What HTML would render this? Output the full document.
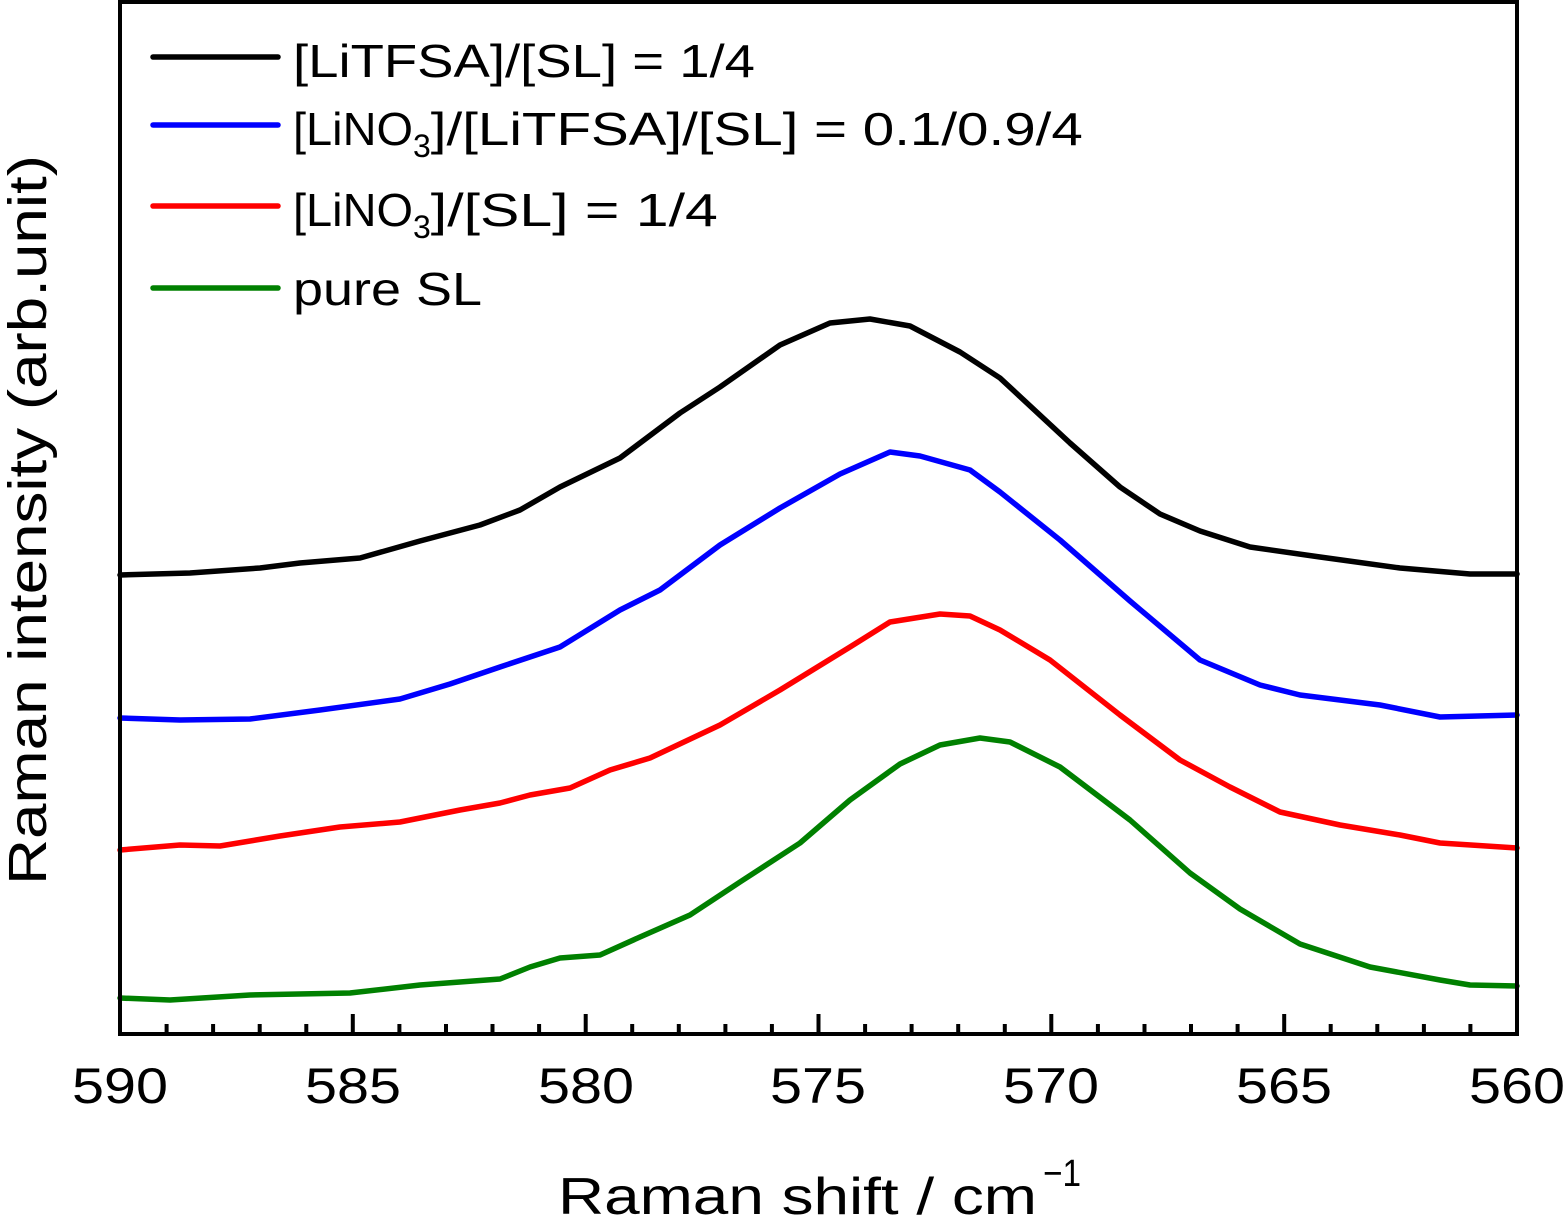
<!DOCTYPE html>
<html><head><meta charset="utf-8"><style>
html,body{margin:0;padding:0;background:#fff;}
svg{display:block;font-family:"Liberation Sans",Arial,sans-serif;}
</style></head><body>
<svg width="1566" height="1219" viewBox="0 0 1566 1219" xmlns="http://www.w3.org/2000/svg">
<rect x="0" y="0" width="1566" height="1219" fill="#fff"/>
<g fill="none" stroke-width="5.5" stroke-linejoin="round" stroke-linecap="round">
<polyline stroke="#000" points="120,575 190,573 260,568 300,563 360,558 420,541 480,525 520,510 560,487 620,458 680,413 720,387 780,345 830,323 870,319 910,326 960,352 1000,378 1070,443 1120,487 1160,514 1200,531 1250,547 1320,557 1400,568 1470,574 1517,574"/>
<polyline stroke="#0000ff" points="120,718 180,720 250,719 320,710 400,699 450,684 500,667 560,647 620,610 660,590 720,545 780,508 840,474 890,452 920,456 970,470 1000,492 1060,540 1130,601 1200,660 1260,685 1300,695 1380,705 1440,717 1517,715"/>
<polyline stroke="#ff0000" points="120,850 180,845 220,846 280,836 340,827 400,822 460,810 500,803 530,795 570,788 610,770 650,758 720,725 780,690 850,647 890,622 940,614 970,616 1000,630 1050,660 1120,715 1180,760 1230,787 1280,812 1340,825 1400,835 1440,843 1517,848"/>
<polyline stroke="#008000" points="120,998 170,1000 250,995 350,993 420,985 500,979 530,967 560,958 600,955 640,937 690,915 740,882 800,843 850,800 900,764 940,745 980,738 1010,742 1060,767 1130,820 1190,873 1240,909 1300,944 1370,967 1440,980 1470,985 1517,986"/>
</g>
<rect x="120" y="2" width="1397" height="1032" fill="none" stroke="#000" stroke-width="4"/>
<g stroke="#000" stroke-width="4">
<line x1="120" y1="1034" x2="120" y2="1014"/>
<line x1="166.6" y1="1034" x2="166.6" y2="1024"/>
<line x1="213.1" y1="1034" x2="213.1" y2="1024"/>
<line x1="259.7" y1="1034" x2="259.7" y2="1024"/>
<line x1="306.3" y1="1034" x2="306.3" y2="1024"/>
<line x1="352.8" y1="1034" x2="352.8" y2="1014"/>
<line x1="399.4" y1="1034" x2="399.4" y2="1024"/>
<line x1="446" y1="1034" x2="446" y2="1024"/>
<line x1="492.5" y1="1034" x2="492.5" y2="1024"/>
<line x1="539.1" y1="1034" x2="539.1" y2="1024"/>
<line x1="585.7" y1="1034" x2="585.7" y2="1014"/>
<line x1="632.2" y1="1034" x2="632.2" y2="1024"/>
<line x1="678.8" y1="1034" x2="678.8" y2="1024"/>
<line x1="725.4" y1="1034" x2="725.4" y2="1024"/>
<line x1="771.9" y1="1034" x2="771.9" y2="1024"/>
<line x1="818.5" y1="1034" x2="818.5" y2="1014"/>
<line x1="865.1" y1="1034" x2="865.1" y2="1024"/>
<line x1="911.6" y1="1034" x2="911.6" y2="1024"/>
<line x1="958.2" y1="1034" x2="958.2" y2="1024"/>
<line x1="1004.8" y1="1034" x2="1004.8" y2="1024"/>
<line x1="1051.3" y1="1034" x2="1051.3" y2="1014"/>
<line x1="1097.9" y1="1034" x2="1097.9" y2="1024"/>
<line x1="1144.5" y1="1034" x2="1144.5" y2="1024"/>
<line x1="1191" y1="1034" x2="1191" y2="1024"/>
<line x1="1237.6" y1="1034" x2="1237.6" y2="1024"/>
<line x1="1284.2" y1="1034" x2="1284.2" y2="1014"/>
<line x1="1330.7" y1="1034" x2="1330.7" y2="1024"/>
<line x1="1377.3" y1="1034" x2="1377.3" y2="1024"/>
<line x1="1423.9" y1="1034" x2="1423.9" y2="1024"/>
<line x1="1470.4" y1="1034" x2="1470.4" y2="1024"/>
<line x1="1517" y1="1034" x2="1517" y2="1014"/>
</g>
<g font-size="50" fill="#000">
<text x="72" y="1103" textLength="96" lengthAdjust="spacingAndGlyphs">590</text>
<text x="305" y="1103" textLength="96" lengthAdjust="spacingAndGlyphs">585</text>
<text x="538" y="1103" textLength="96" lengthAdjust="spacingAndGlyphs">580</text>
<text x="770" y="1103" textLength="96" lengthAdjust="spacingAndGlyphs">575</text>
<text x="1003" y="1103" textLength="96" lengthAdjust="spacingAndGlyphs">570</text>
<text x="1236" y="1103" textLength="96" lengthAdjust="spacingAndGlyphs">565</text>
<text x="1469" y="1103" textLength="96" lengthAdjust="spacingAndGlyphs">560</text>
</g>
<text x="558" y="1214" font-size="52" textLength="479" lengthAdjust="spacingAndGlyphs">Raman shift / cm</text>
<text x="1043" y="1186" font-size="38" textLength="38" lengthAdjust="spacingAndGlyphs">−1</text>
<text transform="translate(46,885) rotate(-90)" font-size="54" textLength="730" lengthAdjust="spacingAndGlyphs">Raman intensity (arb.unit)</text>
<g stroke-width="5.5" stroke-linecap="round">
<line x1="153" y1="57" x2="278" y2="57" stroke="#000"/>
<line x1="153" y1="125" x2="278" y2="125" stroke="#0000ff"/>
<line x1="153" y1="206" x2="278" y2="206" stroke="#ff0000"/>
<line x1="153" y1="288" x2="278" y2="288" stroke="#008000"/>
</g>
<g font-size="46" fill="#000">
<text x="293" y="77" textLength="462" lengthAdjust="spacingAndGlyphs">[LiTFSA]/[SL] = 1/4</text>
<text x="293" y="145"><tspan textLength="120" lengthAdjust="spacingAndGlyphs">[LiNO</tspan><tspan font-size="32" dy="12">3</tspan><tspan dy="-12" textLength="652" lengthAdjust="spacingAndGlyphs">]/[LiTFSA]/[SL] = 0.1/0.9/4</tspan></text>
<text x="293" y="226"><tspan textLength="120" lengthAdjust="spacingAndGlyphs">[LiNO</tspan><tspan font-size="32" dy="12">3</tspan><tspan dy="-12" textLength="287" lengthAdjust="spacingAndGlyphs">]/[SL] = 1/4</tspan></text>
<text x="293" y="305" textLength="189" lengthAdjust="spacingAndGlyphs">pure SL</text>
</g>
</svg>
</body></html>
